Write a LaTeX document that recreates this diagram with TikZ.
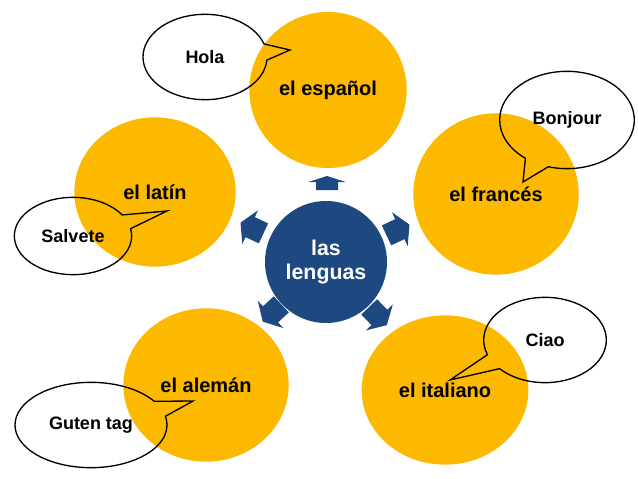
\documentclass[tikz,border=0pt]{standalone}
\usepackage{fontspec}
\setmainfont{Liberation Sans}
\usetikzlibrary{shapes.geometric,shapes.callouts}
\definecolor{amarillo}{RGB}{252,185,0}
\definecolor{azul}{RGB}{30,72,128}
% flecha de bloque: posicion, angulo, largo, largo de la punta (pt)
\newcommand{\flecha}[4]{%
  \fill[azul, shift={#1}, rotate=#2]
    (-#3/2*1pt,-8.25pt) -- (#3/2*1pt-#4*1pt,-8.25pt) -- (#3/2*1pt-#4*1pt,-14pt)
    -- (#3/2*1pt,0pt) -- (#3/2*1pt-#4*1pt,14pt) -- (#3/2*1pt-#4*1pt,8.25pt)
    -- (-#3/2*1pt,8.25pt) -- cycle;}

\begin{document}
\begin{tikzpicture}[x=0.75pt, y=-0.75pt,
    lengua/.style = {ellipse, fill=amarillo, inner sep=0pt, font=\fontsize{15}{18}\selectfont\bfseries},
    globo/.style = {ellipse callout, draw, line width=1pt, inner sep=0pt, callout pointer arc=22, font=\fontsize{13.5}{16}\selectfont\bfseries}]
    \useasboundingbox (0,0) rectangle (638,478);
    % idiomas
    \node[lengua, minimum width=118pt, minimum height=117pt] (espanol) at (328,90) {el español};
    \node[lengua, minimum width=121pt, minimum height=112pt] (latin) at (155,192) {el latín};
    \node[lengua, minimum width=124pt, minimum height=121pt] (frances) at (496,194) {el francés};
    \node[lengua, minimum width=124pt, minimum height=115pt] (aleman) at (206,385) {el alemán};
    \node[lengua, minimum width=125pt, minimum height=112pt] (italiano) at (445,390) {el italiano};
    % flechas
    \flecha{(327,183)}{90}{10.5}{4.5}
    \flecha{(252,228)}{155}{19}{8}
    \flecha{(398,230)}{25}{19}{8}
    \flecha{(272,313)}{223}{19}{8}
    \flecha{(378,316)}{-46}{19}{8}
    \node[circle, fill=azul, minimum size=91.5pt, inner sep=0pt, text=white, align=center, font=\fontsize{16}{17.5}\selectfont\bfseries] (centro) at (326,262) {las\\lenguas};
    % globos
    \node[globo, minimum width=93pt, minimum height=64pt, callout absolute pointer={(290,50)}] (hola) at (205,57) {Hola};
    \node[globo, minimum width=88pt, minimum height=58pt, callout absolute pointer={(167,211)}] (salvete) at (73,236) {Salvete};
    \node[globo, minimum width=101pt, minimum height=73pt, callout absolute pointer={(523,182)}] (bonjour) at (567,120) {Bonjour};
    \node[globo, minimum width=92pt, minimum height=64pt, callout absolute pointer={(450,380)}] (ciao) at (545,340) {Ciao};
    \node[globo, minimum width=114pt, minimum height=64pt, callout absolute pointer={(193,401)}] (guten) at (91,425) {Guten tag};
\end{tikzpicture}
\end{document}
